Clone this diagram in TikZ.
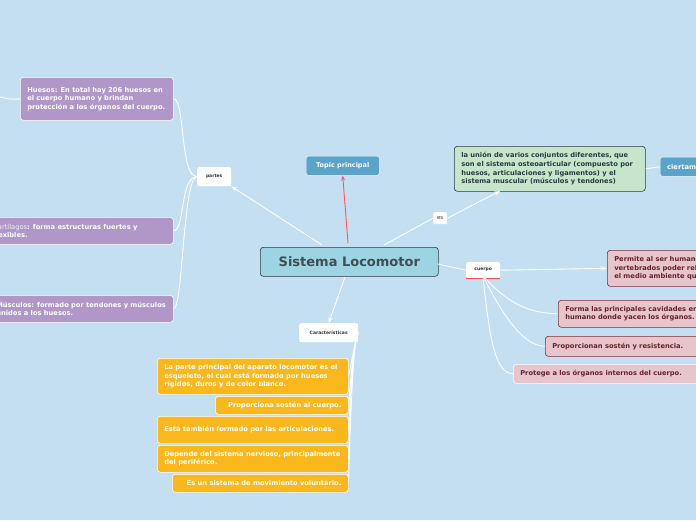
\documentclass[tikz,border=0pt]{standalone}
\usepackage{fontspec}
\setmainfont{DejaVu Sans}
\usetikzlibrary{arrows.meta}
\hyphenpenalty=10000
\exhyphenpenalty=10000
\definecolor{bg}{HTML}{C3DFF1}
\definecolor{purp}{HTML}{B196C8}
\definecolor{orng}{HTML}{FBB81D}
\definecolor{pink}{HTML}{E8C5CA}
\definecolor{pinkb}{HTML}{7A2D3A}
\definecolor{grn}{HTML}{C6E6CB}
\definecolor{blu}{HTML}{5BA4C9}
\definecolor{cen}{HTML}{9ED3E3}
\definecolor{dk}{HTML}{2A3A40}
\tikzset{
 x=1pt,y=-1pt,
 bx/.style={rounded corners=3pt,anchor=north west,align=flush left,inner xsep=7pt,inner ysep=3pt,font=\bfseries\fontsize{6.7}{8.6}\selectfont},
 pu/.style={bx,fill=purp,draw=white,text=white,line width=0.6pt},
 og/.style={bx,fill=orng,draw=white,text=white,line width=0.6pt},
 pk/.style={bx,fill=pink,draw=pinkb,text=pinkb!80!black,line width=0.6pt},
 lab/.style={rounded corners=2pt,fill=white,font=\bfseries\fontsize{4.5}{5}\selectfont,text=black!80,inner sep=0pt,anchor=north west},
 wl/.style={draw=white,line width=0.9pt},
}
\newcommand{\bxnode}[7]{\node[#1,minimum width=#4,minimum height=#5,text width=#4-14] (#2) at #3 {#6#7};}
\begin{document}
\begin{tikzpicture}
\fill[bg] (0,0) rectangle (696,520);
\useasboundingbox (0,0) rectangle (696,520);
\clip (0,0) rectangle (696,520);
% nodes
\node[rounded corners=3pt,fill=cen,draw=dk,line width=0.6pt,minimum width=178,minimum height=29,font=\bfseries\fontsize{13}{15}\selectfont,text=dk!90,anchor=north west] (c) at (260,247) {Sistema Locomotor};
\node[rounded corners=2pt,fill=blu,draw=white,minimum width=73,minimum height=19,font=\bfseries\fontsize{6.5}{8}\selectfont,text=white,anchor=north west] (tp) at (306,156) {Topic principal};
\bxnode{bx,fill=grn,draw=dk,text=dk,line width=0.6pt}{g}{(454,146)}{191}{45}{}{la unión de varios conjuntos diferentes, que son el sistema osteoarticular (compuesto por huesos, articulaciones y ligamentos) y el sistema muscular (músculos y tendones)}
\node[rounded corners=2pt,fill=blu,draw=white,minimum width=80,minimum height=19,font=\bfseries\fontsize{6.7}{8}\selectfont,text=white,anchor=north west,text width=66,align=left] (ci) at (660,157) {ciertamente};
\node[lab,minimum width=14,minimum height=12,font=\fontsize{5.5}{6}\selectfont] (es) at (433,212) {es};
\node[lab,minimum width=34,minimum height=19] (pa) at (197,167) {partes};
\bxnode{pu}{h}{(20,77)}{153}{43}{}{Huesos: En total hay 206 huesos en el cuerpo humano y brindan protección a los órganos del cuerpo.}
\bxnode{pu,inner xsep=0pt}{ca}{(-14,217)}{187}{27}{}{{\mdseries\color{white!85!purp}Cartílagos}: forma estructuras fuertes y flexibles.}
\bxnode{pu,inner xsep=0pt}{mu}{(-11,295)}{184}{27}{}{Músculos: formado por tendones y músculos unidos a los huesos.}
\node[lab,minimum width=59,minimum height=19] (car) at (299,323) {Características};
\bxnode{og}{o1}{(157,358)}{191}{36}{}{La parte principal del aparato locomotor es el esqueleto, el cual está formado por huesos rígidos, duros y de color blanco.}
\bxnode{og,align=flush right}{o2}{(215,396)}{133}{18}{}{Proporciona sostén al cuerpo.}
\bxnode{og}{o3}{(157,416)}{191}{27}{}{Está también formado por las articulaciones.}
\bxnode{og}{o4}{(157,445)}{191}{27}{}{Depende del sistema nervioso, principalmente del periférico.}
\bxnode{og,align=flush right}{o5}{(172,474)}{176}{18}{}{Es un sistema de movimiento voluntario.}
\node[lab,minimum width=34,minimum height=16] (cu) at (466,262) {cuerpo};
\draw[red!70,line width=0.8pt] (cu.south west) -- (cu.south east);
\bxnode{pk}{p1}{(607,250)}{150}{36}{}{Permite al ser humano y a otros vertebrados poder relacionarse con el medio ambiente que lo rodea.}
\bxnode{pk}{p2}{(558,300)}{200}{27}{}{Forma las principales cavidades en el cuerpo humano donde yacen los órganos.}
\bxnode{pk}{p3}{(545,336)}{155}{20}{}{Proporcionan sostén y resistencia.}
\bxnode{pk,draw=white,fill=pink}{p4}{(513,364)}{190}{19}{}{Protege a los órganos internos del cuerpo.}
% connectors
\draw[draw=red!65,line width=0.9pt,-{Stealth[length=5pt]}] (348,243) -- (tp.south);
\draw[wl] (384,245) -- (es.west);
\draw[wl,-{Stealth[length=6pt]}] (es.east) -- (500,191);
\draw[wl] (g.east) -- (ci.west);
\draw[wl,-{Stealth[length=6pt]}] (322,245) -- (pa.south east);
\draw[wl] (pa.west) .. controls (180,177) and (185,99) .. (h.east);
\draw[wl] (pa.west) .. controls (180,177) and (185,230) .. (ca.east);
\draw[wl] (pa.west) .. controls (183,177) and (183,308) .. (mu.east);
\draw[wl] (h.west) .. controls (10,100) and (5,98) .. (0,97);
\draw[wl,-{Stealth[length=6pt]}] (345,277) -- (car.north);
\foreach \n in {o1,o2,o3,o4,o5}{\draw[wl] (car.east) .. controls (355,340) and (352,360) .. (\n.east);}
\draw[wl] (438,264) -- (cu.west);
\draw[wl,-{Stealth[length=6pt]}] (cu.east) -- (p1.west);
\draw[wl] (485,278) .. controls (510,305) and (530,313) .. (p2.west);
\draw[wl] (484,278) .. controls (505,320) and (525,346) .. (p3.west);
\draw[wl] (483,278) .. controls (490,340) and (495,373) .. (p4.west);
\end{tikzpicture}
\end{document}
